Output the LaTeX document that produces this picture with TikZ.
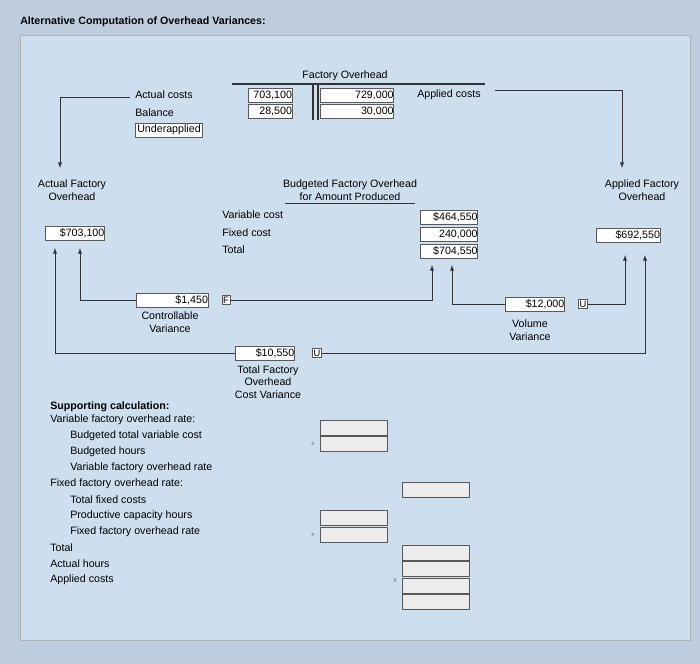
\documentclass[tikz,border=0pt]{standalone}
\usepackage{fontspec}
\setmainfont{Liberation Sans}
\definecolor{panel}{RGB}{205,222,238}
\definecolor{bgc}{RGB}{190,205,222}
\begin{document}
\begin{tikzpicture}[x=0.75pt,y=-0.75pt,font=\fontsize{8}{9.5}\selectfont,
 lbl/.style={inner sep=0pt,anchor=west},
 vbox/.style={draw=gray!70!black,fill=white,inner sep=0pt,minimum height=10.5pt,align=right,text width=#1},
 vbox/.default=40pt,
 inbox/.style={draw=gray!70!black,fill=gray!15,inner sep=0pt,minimum height=11pt,minimum width=50pt},
 ln/.style={draw=black!80,line width=0.5pt},
 arr/.style={ln,-latex}]
\fill[bgc] (0,0) rectangle (700,664);
\useasboundingbox (0,0) rectangle (700,664);
\draw[gray!60,fill=panel] (20,35) rectangle (690,640);
\node[lbl,font=\fontsize{8}{9}\selectfont\bfseries] (title) at (20,22) {Alternative Computation of Overhead Variances:};
% T account
\node (fo) at (345,76) {Factory Overhead};
\coordinate (tl) at (232,84); \coordinate (tr) at (485,84);
\draw[ln,line width=0.8pt] (tl) -- (tr);
\draw[ln,line width=0.8pt] (313,84) -- (313,120);
\draw[ln,line width=0.8pt] (318,84) -- (318,120);
\node[lbl] (ac) at (135,95) {Actual costs};
\node[lbl] (bal) at (135,113) {Balance};
\node[lbl,draw=gray!70!black,fill=white,inner sep=1.5pt] (ua) at (135,130) {Underapplied};
\node[vbox=33pt] (v1) at (270,95) {703,100};
\node[vbox=33pt] (v2) at (270,111) {28,500};
\node[vbox=55pt] (v3) at (357,95) {729,000};
\node[vbox=55pt] (v4) at (357,111) {30,000};
\node[lbl] (apc) at (417,95) {Applied costs};
% actual factory overhead
\node[align=center] (afo) at (72,190) {Actual Factory\\Overhead};
\node[vbox=44pt] (afv) at (75,233) {\$703,100};
\draw[arr] (130,97) -- (60,97) -- (60,168);
% applied factory overhead
\node[align=center] (apo) at (642,190) {Applied Factory\\Overhead};
\node[vbox=48pt] (apv) at (628,235) {\$692,550};
\draw[arr] (495,90) -- (622,90) -- (622,168);
% budgeted
\node[align=center] (bfo) at (350,190) {Budgeted Factory Overhead\\for Amount Produced};
\draw[ln] (285,203) -- (415,203);
\node[lbl] (vc) at (222,215) {Variable cost};
\node[lbl] (fc) at (222,233) {Fixed cost};
\node[lbl] (tot) at (222,250) {Total};
\node[vbox=43pt] (b1) at (449,217) {\$464,550};
\node[vbox=43pt] (b2) at (449,234) {240,000};
\node[vbox=43pt] (b3) at (449,251) {\$704,550};
% controllable
\node[vbox=54pt] (cv) at (172,300) {\$1,450};
\node[draw=gray!70!black,fill=white,inner sep=1pt,font=\fontsize{7}{8}\selectfont] (cf) at (226,300) {F};
\node[align=center] (cvl) at (170,322) {Controllable\\Variance};
\draw[arr] (cv.west) -- (80,300) -- (80,248);
\draw[arr] (cf.east) -- (432,300) -- (432,265);
% volume
\node[vbox=44pt] (vv) at (535,304) {\$12,000};
\node[draw=gray!70!black,fill=white,inner sep=1pt,font=\fontsize{7}{8}\selectfont] (vu) at (583,304) {U};
\node[align=center] (vvl) at (530,330) {Volume\\Variance};
\draw[arr] (vv.west) -- (452,304) -- (452,265);
\draw[arr] (vu.east) -- (625,304) -- (625,255);
% total variance
\node[vbox=44pt] (tv) at (265,353) {\$10,550};
\node[draw=gray!70!black,fill=white,inner sep=1pt,font=\fontsize{7}{8}\selectfont] (tu) at (317,353) {U};
\node[align=center] (tvl) at (268,382) {Total Factory\\Overhead\\Cost Variance};
\draw[arr] (tv.west) -- (55,353) -- (55,248);
\draw[arr] (tu.east) -- (645,353) -- (645,255);
% supporting calc
\node[lbl,font=\fontsize{8}{9}\selectfont\bfseries] (sc) at (50,407) {Supporting calculation:};
\node[lbl] (s1) at (50,420) {Variable factory overhead rate:};
\node[lbl] (s2) at (70,436) {Budgeted total variable cost};
\node[lbl] (s3) at (70,452) {Budgeted hours};
\node[lbl] (s4) at (70,468) {Variable factory overhead rate};
\node[lbl] (s5) at (50,484) {Fixed factory overhead rate:};
\node[lbl] (s6) at (70,500) {Total fixed costs};
\node[lbl] (s7) at (70,516) {Productive capacity hours};
\node[lbl] (s8) at (70,532) {Fixed factory overhead rate};
\node[lbl] (s9) at (50,548) {Total};
\node[lbl] (s10) at (50,564) {Actual hours};
\node[lbl] (s11) at (50,580) {Applied costs};
% input boxes
\node[inbox] (i1) at (354,428) {};
\node[inbox] (i2) at (354,444) {};
\node[inbox] (i3) at (436,490) {};
\node[inbox] (i4) at (354,518) {};
\node[inbox] (i5) at (354,535) {};
\node[inbox] (i6) at (436,553) {};
\node[inbox] (i7) at (436,569) {};
\node[inbox] (i8) at (436,586) {};
\node[inbox] (i9) at (436,602) {};
\node[font=\fontsize{6}{7}\selectfont,text=gray] (p1) at (313,444) {+};
\node[font=\fontsize{6}{7}\selectfont,text=gray] (p2) at (313,535) {+};
\node[font=\fontsize{6}{7}\selectfont,text=gray] (p3) at (395,580) {x};
\end{tikzpicture}
\end{document}
